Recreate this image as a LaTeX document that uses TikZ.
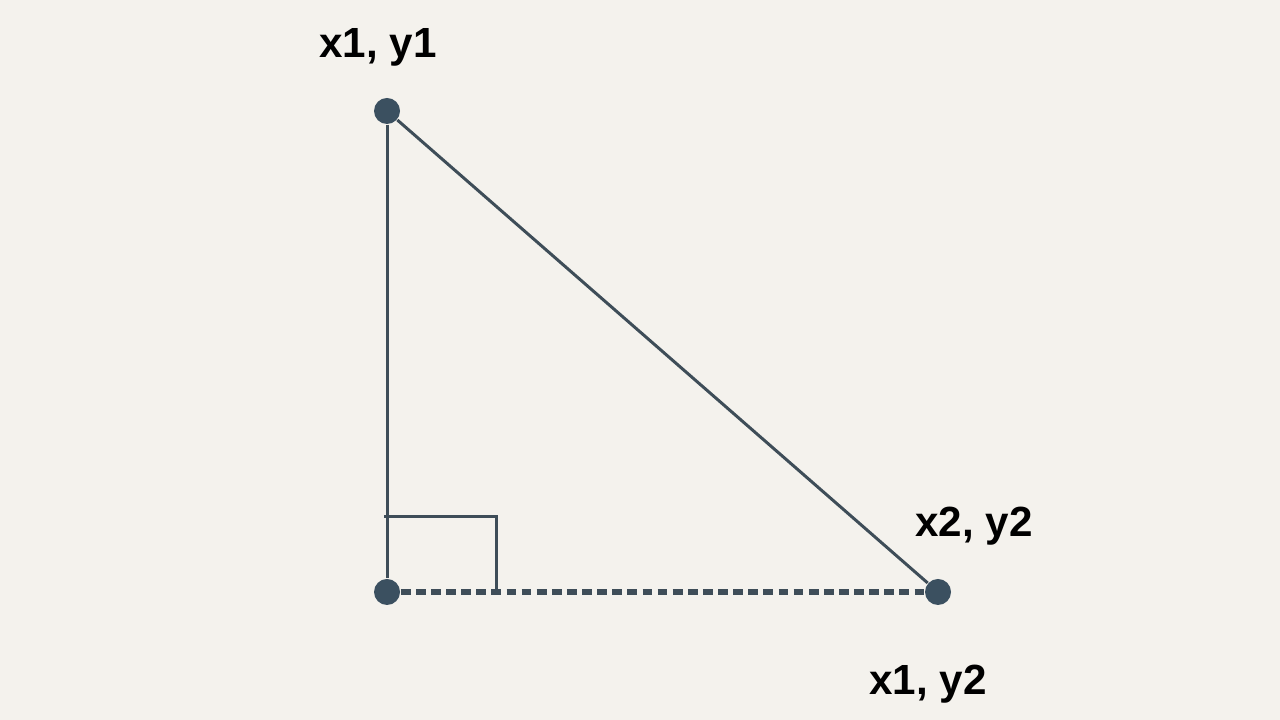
\documentclass[tikz,border=0pt]{standalone}
\usepackage{fontspec}
\setmainfont{Liberation Sans}
\usepackage{xcolor}
\usetikzlibrary{positioning,calc}
\definecolor{bgpaper}{HTML}{F4F2ED}
\definecolor{slate}{HTML}{3E4D58}
\definecolor{dotblue}{HTML}{3B5060}

\begin{document}
\begin{tikzpicture}[
    vertex/.style={circle, fill=dotblue, inner sep=0pt, minimum size=0.26cm},
    edge/.style={draw=slate, line width=0.85pt},
    baseline/.style={draw=slate, line width=1.7pt, dash pattern=on 2.8pt off 1.5pt},
    coordlabel/.style={font=\bfseries\fontsize{12}{14}\selectfont, text=black}
]
\fill[bgpaper] (0,0) rectangle (12.8,7.2);
\useasboundingbox (0,0) rectangle (12.8,7.2);

\node[vertex] (top) at (3.87,6.09) {};
\node[vertex] (corner) at (3.87,1.28) {};
\node[vertex] (right) at (9.38,1.28) {};

\node[coordlabel] (topl) at (3.78,6.73) {x1, y1};
\node[coordlabel] (rightl) at (9.74,1.94) {x2, y2};
\node[coordlabel] (cornerl) at (9.28,0.36) {x1, y2};

% right angle mark
\draw[edge] (3.84,2.03) -- (4.96,2.03) -- (4.96,1.28);

\draw[edge] (top) -- (corner);
\draw[edge] (top) -- (right);
\draw[baseline] (corner) -- (right);

\end{tikzpicture}
\end{document}
